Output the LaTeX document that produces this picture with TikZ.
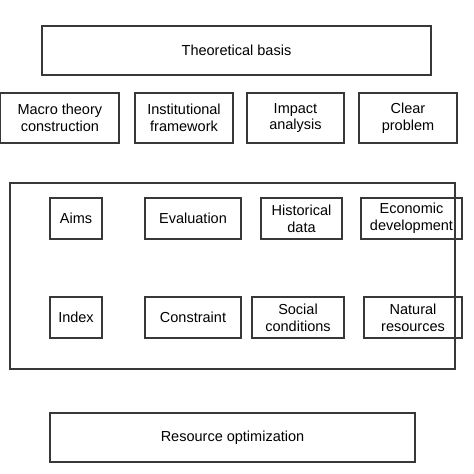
\documentclass[tikz,border=0pt]{standalone}
\usepackage{fontspec}
\setmainfont{Liberation Sans}
\begin{document}
\begin{tikzpicture}[x=1bp,y=-1bp,
  box/.style={draw=black!78, line width=1.1bp, inner sep=0pt, align=center,
    font=\fontsize{14.5bp}{16.7bp}\selectfont, text=black},
  frame/.style={draw=black!78, line width=1.1bp, inner sep=0pt}]
\useasboundingbox (0,0) rectangle (474,474);
% top
\node[box, minimum width=389bp, minimum height=49bp] (basis) at (236.5,50.5) {Theoretical basis};
\node[box, minimum width=118.3bp, minimum height=50bp] (macro) at (59.85,118) {Macro theory\\construction};
\node[box, minimum width=98bp, minimum height=50bp] (inst) at (184,118) {Institutional\\framework};
\node[box, minimum width=97bp, minimum height=50bp] (impact) at (295.5,118) {Impact\\analysis};
\node[box, minimum width=98bp, minimum height=50bp] (clear) at (408,118) {Clear\\problem};
% middle frame
\node[frame, minimum width=445bp, minimum height=186bp] (frame) at (232.5,276) {};
\node[box, minimum width=52bp, minimum height=41bp] (aims) at (76,218.5) {Aims};
\node[box, minimum width=96bp, minimum height=41bp] (eval) at (193,218.5) {Evaluation};
\node[box, minimum width=81bp, minimum height=41bp] (hist) at (301.5,218.5) {Historical\\data};
\node[box, minimum width=101bp, minimum height=41bp] (econ) at (411.5,218.5) {Economic\\development};
\node[box, minimum width=52bp, minimum height=41bp] (index) at (76,317.5) {Index};
\node[box, minimum width=96bp, minimum height=41bp] (constr) at (193,317.5) {Constraint};
\node[box, minimum width=92bp, minimum height=41bp] (social) at (298,317.5) {Social\\conditions};
\node[box, minimum width=98bp, minimum height=41bp] (natural) at (413,317.5) {Natural\\resources};
% bottom
\node[box, minimum width=365bp, minimum height=49bp] (resopt) at (232.5,437.5) {Resource optimization};
\end{tikzpicture}
\end{document}
